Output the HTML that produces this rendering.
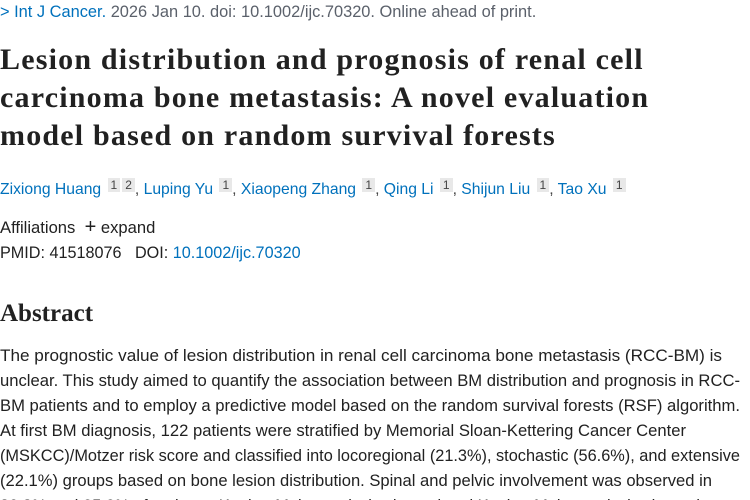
<!DOCTYPE html>
<html><head><meta charset="utf-8"><style>
body{margin:0;width:750px;height:500px;overflow:hidden;background:#fff;font-family:"Liberation Sans",sans-serif;color:#212121}
.a{position:absolute;left:0;white-space:nowrap}
.top{top:3px;font-size:16.4px;color:#5b616b}
.blue{color:#0071bc}
.t{font-family:"Liberation Serif",serif;font-weight:bold;font-size:30px;letter-spacing:1.2px;color:#212121;line-height:38px;top:41px}
.au{top:178px;font-size:15.7px;color:#0071bc}
.sup{display:inline-block;background:#e8e8e8;color:#444;font-size:12px;padding:0 3px;vertical-align:5px;margin-left:2px}
.c{color:#444}
.s{font-size:16.6px;color:#212121}
h2{font-family:"Liberation Serif",serif;font-size:25px;margin:0;top:300px;font-weight:bold}
svg{position:absolute;left:0;top:340px}
svg text{font-family:"Liberation Sans",sans-serif;font-size:16.8px;fill:#212121}
</style></head><body>
<div class="a top"><span class="blue">&gt; Int J Cancer.</span> 2026 Jan 10. doi: 10.1002/ijc.70320. Online ahead of print.</div>
<div class="a t">Lesion distribution and prognosis of renal cell<br>carcinoma bone metastasis: A novel evaluation<br>model based on random survival forests</div>
<div class="a au">Zixiong Huang <span class="sup">1</span><span class="sup">2</span><span class="c">,</span> Luping Yu <span class="sup">1</span><span class="c">,</span> Xiaopeng Zhang <span class="sup">1</span><span class="c">,</span> Qing Li <span class="sup">1</span><span class="c">,</span> Shijun Liu <span class="sup">1</span><span class="c">,</span> Tao Xu <span class="sup">1</span></div>
<div class="a s" style="top:216px">Affiliations &nbsp;<span style="font-size:20px">+</span> expand</div>
<div class="a" style="top:244px;font-size:16.2px">PMID: 41518076 &nbsp;&nbsp;DOI: <span class="blue">10.1002/ijc.70320</span></div>
<h2 class="a">Abstract</h2>
<svg width="750" height="160">
<text x="0" y="21" textLength="722" lengthAdjust="spacingAndGlyphs">The prognostic value of lesion distribution in renal cell carcinoma bone metastasis (RCC-BM) is</text>
<text x="0" y="46" textLength="740" lengthAdjust="spacingAndGlyphs">unclear. This study aimed to quantify the association between BM distribution and prognosis in RCC-</text>
<text x="0" y="71" textLength="740" lengthAdjust="spacingAndGlyphs">BM patients and to employ a predictive model based on the random survival forests (RSF) algorithm.</text>
<text x="0" y="96" textLength="686" lengthAdjust="spacingAndGlyphs">At first BM diagnosis, 122 patients were stratified by Memorial Sloan-Kettering Cancer Center</text>
<text x="0" y="121" textLength="740" lengthAdjust="spacingAndGlyphs">(MSKCC)/Motzer risk score and classified into locoregional (21.3%), stochastic (56.6%), and extensive</text>
<text x="0" y="146" textLength="712" lengthAdjust="spacingAndGlyphs">(22.1%) groups based on bone lesion distribution. Spinal and pelvic involvement was observed in</text>
<text x="0" y="171" textLength="700" lengthAdjust="spacingAndGlyphs">30.3% and 25.2% of patients. Kaplan-Meier analysis showed and Kaplan-Meier analysis showed</text>
</svg>
</body></html>
